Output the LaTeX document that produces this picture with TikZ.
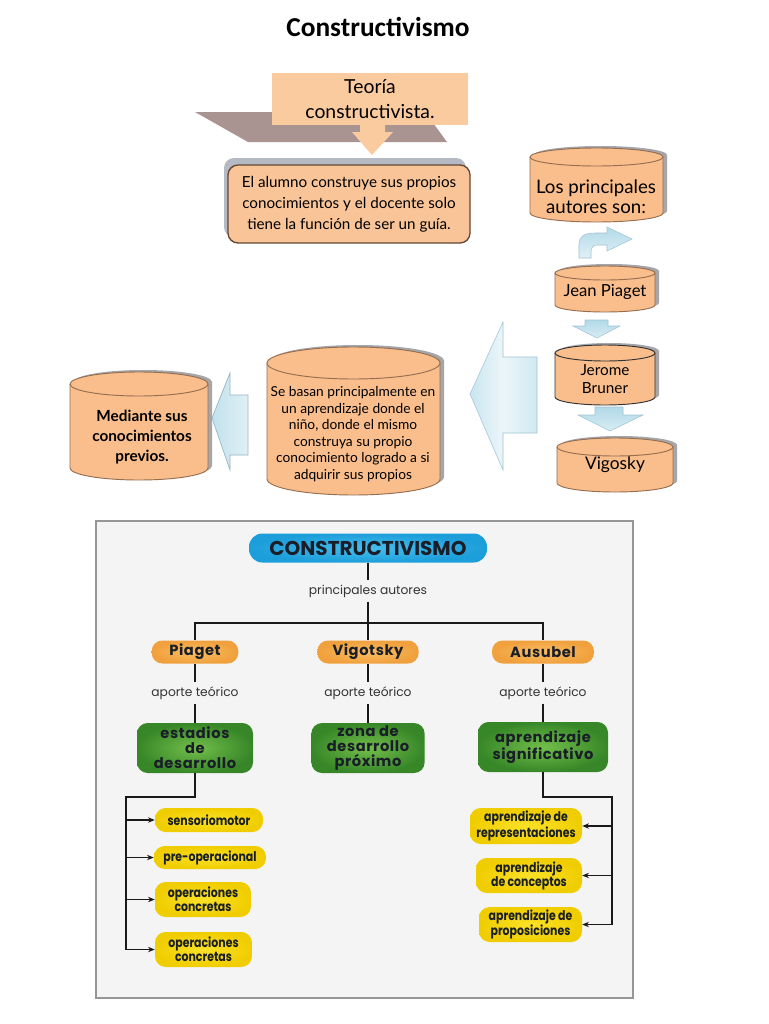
\documentclass[tikz,border=0pt]{standalone}
\usepackage{fontspec}
\setmainfont{Lato}
\newfontfamily\titlefont{Carlito}
\newfontfamily\topfont{Lato}
\newfontfamily\futfont{Poppins}
\newfontfamily\futwide[LetterSpace=4]{Poppins}
\newfontfamily\condfont[FakeStretch=0.82]{Poppins}
\usetikzlibrary{arrows.meta}
\definecolor{peachlight}{RGB}{251,203,160}
\definecolor{peach}{RGB}{249,197,152}
\definecolor{cylfill}{RGB}{249,190,140}
\definecolor{cylline}{RGB}{150,110,80}
\definecolor{cylshadow}{RGB}{165,165,170}
\definecolor{taupe}{RGB}{170,148,146}
\definecolor{brownline}{RGB}{100,70,50}
\definecolor{shadowblue}{RGB}{180,185,195}
\definecolor{lblue}{RGB}{178,218,232}
\definecolor{lbluedark}{RGB}{160,195,212}
\definecolor{framefill}{RGB}{244,244,244}
\definecolor{frameline}{RGB}{150,150,150}
\definecolor{consblue}{RGB}{28,158,218}
\definecolor{consblueL}{RGB}{70,190,238}
\definecolor{orpill}{RGB}{240,160,60}
\definecolor{orpillL}{RGB}{250,190,100}
\definecolor{grdark}{RGB}{55,135,40}
\definecolor{grlight}{RGB}{115,190,75}
\definecolor{yel}{RGB}{240,205,0}
\definecolor{yelL}{RGB}{250,225,40}
\definecolor{darktext}{RGB}{25,30,40}
\newcommand\cyl[6]{%
  \pgfmathsetmacro\rx{(#3-#1)/2}%
  \pgfmathsetmacro\cx{(#1+#3)/2}%
  \pgfmathsetmacro\yt{#2+#5}%
  \pgfmathsetmacro\yb{#4-#5}%
  \fill[cylshadow,shift={(4,-2)}] (#1,\yt) -- (#1,\yb) arc[start angle=180,end angle=0,x radius=\rx,y radius=#5] -- (#3,\yt) -- cycle;
  \fill[cylshadow,shift={(4,-2)}] (\cx,\yt) ellipse[x radius=\rx,y radius=#5];
  \filldraw[fill=cylfill,draw=#6,line width=0.7pt] (#1,\yt) -- (#1,\yb) arc[start angle=180,end angle=0,x radius=\rx,y radius=#5] -- (#3,\yt);
  \filldraw[fill=cylfill,draw=#6,line width=0.7pt] (\cx,\yt) ellipse[x radius=\rx,y radius=#5];
}
\begin{document}
\begin{tikzpicture}[x=0.75pt,y=-0.75pt,
  cyltext/.style={align=center,text=black,inner sep=0pt},
  bluepill/.style={rounded corners=10pt,inner color=consblueL,outer color=consblue,minimum width=178.5pt,minimum height=21.75pt,inner sep=0pt,text=darktext,font=\futfont\bfseries\fontsize{15pt}{16pt}\selectfont},
  orpillst/.style={rounded corners=8pt,inner color=orpillL,outer color=orpill,minimum height=17.25pt,inner sep=0pt,text=darktext,font=\futwide\bfseries\fontsize{11pt}{12pt}\selectfont},
  lbl/.style={inner sep=3pt,text=black!80,font=\futfont\fontsize{9.2pt}{11pt}\selectfont},
  grbox/.style={rounded corners=8pt,inner color=grlight,outer color=grdark,minimum height=37.5pt,inner sep=0pt,align=center,text=darktext,font=\futwide\bfseries\fontsize{11pt}{11.3pt}\selectfont},
  yelbox/.style={rounded corners=8pt,inner color=yelL,outer color=yel,inner sep=0pt,align=center,text=darktext,font=\condfont\bfseries\fontsize{10pt}{10.5pt}\selectfont},
  conn/.style={line width=1.3pt,draw=black!90},
  arr/.style={conn,-{Stealth[length=5pt,width=4pt]}}]
\useasboundingbox (0,0) rectangle (768,1024);
\fill[white] (0,0) rectangle (768,1024);

% title
\node[font=\titlefont\bfseries\fontsize{20.5pt}{24pt}\selectfont] (title) at (378,27) {Constructivismo};

% top banner
\fill[taupe] (195,112) -- (425,112) -- (447,142) -- (248,142) -- cycle;
\node[fill=peachlight,minimum width=147pt,minimum height=39pt,inner sep=0pt,align=center,
  font=\topfont\fontsize{14.5pt}{18.75pt}\selectfont] (teoria) at (370,99) {Teoría\\constructivista.};
\fill[peachlight] (360,124) -- (360,132) -- (352,132) -- (372,155) -- (393,132) -- (385,132) -- (385,124) -- cycle;

% alumno box
\fill[shadowblue,rounded corners=7.5pt] (224,158) rectangle (466,237);
\node[fill=peach,draw=brownline,line width=1pt,rounded corners=7.5pt,minimum width=181.5pt,minimum height=58.5pt,inner sep=0pt,align=center,
  font=\topfont\fontsize{11.4pt}{15.75pt}\selectfont] (alumno) at (349,204)
  {El alumno construye sus propios\\conocimientos y el docente solo\\tiene la función de ser un guía.};

% right column cylinders
\cyl{530}{148}{663}{222}{9}{cylline}
\node[cyltext,font=\topfont\fontsize{14pt}{15pt}\selectfont] (autores) at (596,197) {Los principales\\autores son:};

% bent arrow
\path[draw=lbluedark,line width=0.4pt,top color=lblue,bottom color=white!60!lblue]
  (579,258) -- (579,244) .. controls (579,236) and (585,233) .. (595,233) -- (607,233) -- (607,227) -- (632,239) -- (607,251) -- (607,245) -- (597,245) .. controls (593,245) and (591,248) .. (591,252) -- (591,258) -- cycle;

\cyl{555}{266}{655}{312}{7}{cylline}
\node[cyltext,font=\topfont\fontsize{12.5pt}{14pt}\selectfont] (piagetc) at (605,292) {Jean Piaget};

\path[draw=lbluedark,line width=0.4pt,top color=lblue,bottom color=white!50!lblue]
  (585,320) -- (608,320) -- (608,326) -- (620,326) -- (597,338) -- (573,326) -- (585,326) -- cycle;

\cyl{555}{345}{655}{405}{8}{black!80}
\node[cyltext,font=\topfont\fontsize{11.5pt}{14pt}\selectfont] (bruner) at (605,379) {Jerome\\Bruner};

\path[draw=lbluedark,line width=0.4pt,top color=lblue,bottom color=white!50!lblue]
  (595,407) -- (623,407) -- (623,415) -- (643,415) -- (610,431) -- (578,415) -- (595,415) -- cycle;

\cyl{557}{438}{673}{492}{9}{cylline}
\node[cyltext,font=\topfont\fontsize{13pt}{15pt}\selectfont] (vigosky) at (615,465) {Vigosky};

% big left arrow
\path[draw=lbluedark,line width=0.4pt,left color=white!30!lblue,right color=white!40!lblue,middle color=white!75!lblue]
  (470,394) -- (503,322) -- (503,357) -- (537,357) -- (537,433) -- (503,433) -- (503,470) -- cycle;

% middle cylinder
\cyl{267}{347}{440}{495}{16}{cylline}
\node[cyltext,font=\topfont\fontsize{10.3pt}{12.4pt}\selectfont] (basan) at (353,434)
  {Se basan principalmente en\\un aprendizaje donde el\\niño, donde el mismo\\construya su propio\\conocimiento logrado a si\\adquirir sus propios};

% small left arrow
\path[draw=lbluedark!80!gray,line width=0.5pt,left color=white!20!lblue,right color=white!60!lblue]
  (212,418) -- (230,373) -- (230,395) -- (248,395) -- (248,455) -- (230,455) -- (230,470) -- cycle;

% left cylinder
\cyl{70}{372}{208}{480}{12}{cylline}
\node[cyltext,font=\topfont\bfseries\fontsize{11.5pt}{15pt}\selectfont] (mediante) at (142,437) {Mediante sus\\conocimientos\\previos.};

% ===== bottom frame =====
\filldraw[fill=framefill,draw=frameline,line width=0.8pt] (96,521) rectangle (633,998);

\node[bluepill] (cons) at (368,548) {CONSTRUCTIVISMO};
\node[lbl] (pa) at (368,591) {principales autores};
\coordinate (hub) at (368,623);

\node[orpillst,minimum width=65pt] (piaget) at (195,652) {Piaget};
\node[orpillst,minimum width=76pt] (vig) at (368,652) {Vigotsky};
\node[orpillst,minimum width=76.5pt] (aus) at (543,652) {Ausubel};

\node[lbl] (ap1) at (195,693) {aporte teórico};
\node[lbl] (ap2) at (368,693) {aporte teórico};
\node[lbl] (ap3) at (543,693) {aporte teórico};

\node[grbox,minimum width=87pt] (g1) at (195,748) {estadios\\de\\desarrollo};
\node[grbox,minimum width=85pt] (g2) at (368,748) {zona de\\desarrollo\\próximo};
\node[grbox,minimum width=97.5pt] (g3) at (543,747) {aprendizaje\\significativo};

\node[yelbox,minimum width=81pt,minimum height=18pt] (s1) at (209,820) {sensoriomotor};
\node[yelbox,minimum width=84pt,minimum height=17.25pt] (s2) at (210,857.5) {pre-operacional};
\node[yelbox,minimum width=72pt,minimum height=26.25pt] (s3) at (203,899.5) {operaciones\\concretas};
\node[yelbox,minimum width=72.75pt,minimum height=26.25pt] (s4) at (203.5,949.5) {operaciones\\concretas};

\node[yelbox,minimum width=84pt,minimum height=27pt] (r1) at (526,826) {aprendizaje de\\representaciones};
\node[yelbox,minimum width=79.5pt,minimum height=26.25pt] (r2) at (529,875.5) {aprendizaje\\de conceptos};
\node[yelbox,minimum width=77.25pt,minimum height=26.25pt] (r3) at (530.5,924.5) {aprendizaje de\\proposiciones};

% connectors
\draw[conn] (cons.south) -- (pa.north);
\draw[conn] (pa.south) -- (hub);
\draw[conn] (piaget.north) -- (piaget.north |- hub) -- (aus.north |- hub) -- (aus.north);
\draw[conn] (hub) -- (vig.north);
\draw[conn] (piaget.south) -- (ap1.north);
\draw[conn] (vig.south) -- (ap2.north);
\draw[conn] (aus.south) -- (ap3.north);
\draw[conn] (ap1.south) -- (g1.north);
\draw[conn] (ap2.south) -- (g2.north);
\draw[conn] (ap3.south) -- (g3.north);

\coordinate (lt) at (126,797);
\coordinate (rt) at (612,797);
\draw[conn] (g1.south) -- (g1.south |- lt) -- (lt) -- (lt |- s4.west);
\foreach \n in {s1,s2,s3,s4} \draw[arr] (lt |- \n.west) -- (\n.west);
\draw[conn] (g3.south) -- (g3.south |- rt) -- (rt) -- (rt |- r3.east);
\foreach \n in {r1,r2,r3} \draw[arr] (rt |- \n.east) -- (\n.east);
\end{tikzpicture}
\end{document}
